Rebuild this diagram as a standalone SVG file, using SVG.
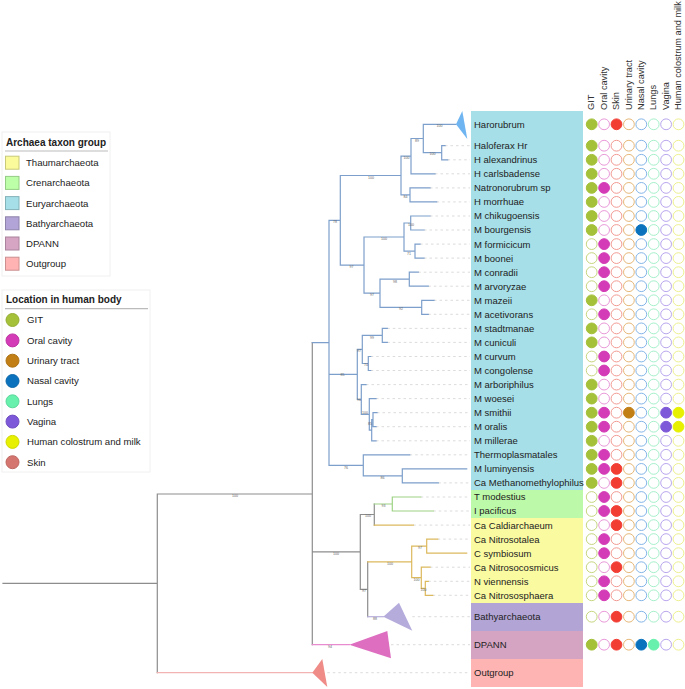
<svg xmlns="http://www.w3.org/2000/svg" width="685" height="689" viewBox="0 0 685 689">
<style>
text{font-family:"Liberation Sans",Arial,sans-serif;fill:#222}
.lab{font-size:9.5px}
.hd{font-size:9.2px;fill:#333}
.lt{font-size:9.6px}
.ttl{font-size:10px;font-weight:bold}
.bs{font-size:3.6px;fill:#666}
.br{fill:none;stroke-width:1.2;stroke-linecap:square}
.gray{stroke:#8d8d8d}
.blue{stroke:#7d9fcb}
.grn{stroke:#9ed384}
.yel{stroke:#dcb95c}
.lead{fill:none;stroke:#d2d2d2;stroke-width:0.8;stroke-dasharray:2.5 3}
circle.k{fill:#fff;stroke-width:1}
.g{stroke:#c5d67e}.g.f{fill:#a4c139;stroke:#a4c139}
.o{stroke:#e99ad9}.o.f{fill:#d43bb6;stroke:#d43bb6}
.s{stroke:#f29a92}.s.f{fill:#f23d33;stroke:#f23d33}
.u{stroke:#e6b878}.u.f{fill:#c17f16;stroke:#c17f16}
.n{stroke:#83b5e8}.n.f{fill:#0b73bd;stroke:#0b73bd}
.l{stroke:#a6f0cb}.l.f{fill:#68f0ad;stroke:#68f0ad}
.v{stroke:#b9a6ee}.v.f{fill:#7d58d8;stroke:#7d58d8}
.m{stroke:#edf08e}.m.f{fill:#e6f000;stroke:#e6f000}
</style>

<!-- legends -->
<g id="legend-taxon">
<rect x="2" y="132" width="108" height="144" fill="#fff" stroke="#f0f0f0"/>
<text class="ttl" x="6" y="146.2">Archaea taxon group</text>
<line x1="5" y1="151" x2="108" y2="151" stroke="#bbb" stroke-width="1.2"/>
<rect x="5.5" y="156.2" width="13.5" height="13" fill="#fbfb9c" stroke="#c9c97a"/><text class="lt" x="26" y="166.1">Thaumarchaeota</text>
<rect x="5.5" y="176.4" width="13.5" height="13" fill="#bcffa8" stroke="#95cc85"/><text class="lt" x="26" y="186.3">Crenarchaeota</text>
<rect x="5.5" y="196.6" width="13.5" height="13" fill="#a6dfe8" stroke="#84b2b9"/><text class="lt" x="26" y="206.5">Euryarchaeota</text>
<rect x="5.5" y="216.8" width="13.5" height="13" fill="#b2a4d6" stroke="#8e83ab"/><text class="lt" x="26" y="226.7">Bathyarchaeota</text>
<rect x="5.5" y="237" width="13.5" height="13" fill="#d5a5c3" stroke="#aa849c"/><text class="lt" x="26" y="246.9">DPANN</text>
<rect x="5.5" y="257.2" width="13.5" height="13" fill="#ffb3b3" stroke="#cc8f8f"/><text class="lt" x="26" y="267.1">Outgroup</text>
</g>
<g id="legend-location">
<rect x="2" y="290" width="148" height="182" fill="#fff" stroke="#f0f0f0"/>
<text class="ttl" x="6" y="302.7">Location in human body</text>
<line x1="5" y1="308.7" x2="148" y2="308.7" stroke="#bbb" stroke-width="1.2"/>
<circle cx="12.5" cy="320" r="6.5" fill="#a4c139" stroke="#94ad33"/><text class="lt" x="27" y="323.4">GIT</text>
<circle cx="12.5" cy="340.4" r="6.5" fill="#d43bb6" stroke="#be35a3"/><text class="lt" x="27" y="343.8">Oral cavity</text>
<circle cx="12.5" cy="360.7" r="6.5" fill="#c17f16" stroke="#ad7214"/><text class="lt" x="27" y="364.1">Urinary tract</text>
<circle cx="12.5" cy="381" r="6.5" fill="#0b73bd" stroke="#0a67aa"/><text class="lt" x="27" y="384.4">Nasal cavity</text>
<circle cx="12.5" cy="401.3" r="6.5" fill="#68f0ad" stroke="#5dd89b"/><text class="lt" x="27" y="404.7">Lungs</text>
<circle cx="12.5" cy="421.6" r="6.5" fill="#7d58d8" stroke="#704fc2"/><text class="lt" x="27" y="425">Vagina</text>
<circle cx="12.5" cy="441.9" r="6.5" fill="#e6f000" stroke="#cfd800"/><text class="lt" x="27" y="445.3">Human colostrum and milk</text>
<circle cx="12.5" cy="462.2" r="6.5" fill="#d4756f" stroke="#bf6964"/><text class="lt" x="27" y="465.6">Skin</text>
</g>

<!-- label bands -->
<g id="bands">
<rect x="471" y="111" width="112" height="379" fill="#a6dfe8"/>
<rect x="471" y="490" width="112" height="28" fill="#bcf9a8"/>
<rect x="471" y="518" width="112" height="85" fill="#fafaa0"/>
<rect x="471" y="603" width="112" height="28" fill="#b2a5d6"/>
<rect x="471" y="631" width="112" height="28" fill="#d5a4c2"/>
<rect x="471" y="659" width="112" height="28" fill="#ffb4b4"/>
</g>

<!-- column headers -->
<g id="headers">
<text class="hd" transform="translate(594.3,110) rotate(-90)">GIT</text>
<text class="hd" transform="translate(606.7,110) rotate(-90)">Oral cavity</text>
<text class="hd" transform="translate(619.1,110) rotate(-90)">Skin</text>
<text class="hd" transform="translate(631.5,110) rotate(-90)">Urinary tract</text>
<text class="hd" transform="translate(643.9,110) rotate(-90)">Nasal cavity</text>
<text class="hd" transform="translate(656.3,110) rotate(-90)">Lungs</text>
<text class="hd" transform="translate(668.7,110) rotate(-90)">Vagina</text>
<text class="hd" transform="translate(681.1,110) rotate(-90)">Human colostrum and milk</text>
</g>

<!-- connectors -->
<g id="connectors">
<g id="leaders">
<path class="lead" d="M445,145.7H470M447.7,159.8H470M435,173.8H470M430,187.9H470M436.7,201.9H470M430,216H470M424,230H470M420,244.1H470M424,258.1H470M418.3,272.2H470M428.3,286.2H470M434,300.3H470M428.3,314.3H470M387.3,328.4H470M387.3,342.4H470M370.7,356.5H470M370.7,370.5H470M366,384.6H470M376,398.6H470M377,412.7H470M376,426.7H470M376,440.8H470M409.7,454.8H470M438.3,482.9H470M420.7,497H470M433.3,511H470M413.3,525.1H470M437.7,539.1H470M430,567.2H470M428.3,581.3H470M432.7,595.3H470M412.3,616.7H470M391,644.7H470M327.3,672.7H470"/>
</g>
<path class="br gray" d="M3,583.3H157.3M157.3,494V672.7M157.3,494H312.3M312.3,342.7V644.7M312.3,551.9H360.3M360.3,514.5V589.3M360.3,514.5H374.3M374.3,504V525.1M360.3,589.3H367.7M367.7,561.9V616.7"/>
<path class="br blue" d="M312.3,342.7H329M329,220.3V465.3M329,220.3H340.3M329,374.4H357.3M329,465.3H363.3M340.3,175.5V265.1M340.3,175.5H401M340.3,265.1H364M401,156.2V194.9M401,156.2H411M401,194.9H410M411,138.5V173.8M411,138.5H423.3M411,173.8H435M423.3,124.3V152.7M423.3,124.3H456M423.3,152.7H441.7M441.7,145.7V159.8M441.7,145.7H445M441.7,159.8H447.7M410,187.9V201.9M410,187.9H430M410,201.9H436.7M364,237V293.2M364,237H404M364,293.2H380M404,223V251.1M404,223H410.7M404,251.1H415M410.7,216V230M410.7,216H430M410.7,230H424M415,244.1V258.1M415,244.1H420M415,258.1H424M380,279.2V307.3M380,279.2H409.3M380,307.3H421.7M409.3,272.2V286.2M409.3,272.2H418.3M409.3,286.2H428.3M421.7,300.3V314.3M421.7,300.3H434M421.7,314.3H428.3M357.3,349.4V399.5M357.3,349.4H362.3M357.3,399.5H361.3M362.3,335.4V363.5M362.3,335.4H382.3M362.3,363.5H368.3M382.3,328.4V342.4M382.3,328.4H387.3M382.3,342.4H387.3M368.3,356.5V370.5M368.3,356.5H370.7M368.3,370.5H370.7M361.3,384.6V414.4M361.3,384.6H366M361.3,414.4H369.3M369.3,398.6V430.2M369.3,398.6H376M369.3,430.2H371.7M371.7,419.7V440.8M371.7,419.7H373M371.7,440.8H376M373,412.7V426.7M373,412.7H377M373,426.7H376M363.3,454.8V475.9M363.3,454.8H409.7M363.3,475.9H402.3M402.3,468.9V482.9M402.3,468.9H466.7M402.3,482.9H438.3"/>
<path class="br grn" d="M374.3,504H392.3M392.3,497V511M392.3,497H420.7M392.3,511H433.3"/>
<path class="br yel" d="M374.3,525.1H413.3M367.7,561.9H411.7M411.7,546.1V577.7M411.7,546.1H426.7M411.7,577.7H421.3M426.7,539.1V553.2M426.7,539.1H437.7M426.7,553.2H466.7M421.3,567.2V588.3M421.3,567.2H430M421.3,588.3H425.3M425.3,581.3V595.3M425.3,581.3H428.3M425.3,595.3H432.7"/>
<path class="br" stroke="#b7aedc" d="M367.7,616.7H383.3"/>
<path class="br" stroke="#e88ccf" d="M312.3,644.7H349.3"/>
<path class="br" stroke="#f4b3b3" d="M157.3,672.7H312.3"/>
<g id="support">
<text class="bs" x="232" y="497">100</text>
<text class="bs" x="328" y="648">94</text>
<text class="bs" x="333" y="554.5">100</text>
<text class="bs" x="362" y="592">97</text>
<text class="bs" x="373" y="619.5">88</text>
<text class="bs" x="365" y="517">100</text>
<text class="bs" x="381.5" y="506.5">93</text>
<text class="bs" x="387" y="565">100</text>
<text class="bs" x="418" y="549">97</text>
<text class="bs" x="413.5" y="580.5">100</text>
<text class="bs" x="420.5" y="591">100</text>
<text class="bs" x="333" y="223">78</text>
<text class="bs" x="368" y="178.5">100</text>
<text class="bs" x="349.5" y="268">97</text>
<text class="bs" x="403.5" y="159">100</text>
<text class="bs" x="403.5" y="197.5">84</text>
<text class="bs" x="415" y="141.5">89</text>
<text class="bs" x="436.5" y="127">100</text>
<text class="bs" x="429.5" y="155">100</text>
<text class="bs" x="381" y="240">100</text>
<text class="bs" x="408" y="226">100</text>
<text class="bs" x="407" y="255">71</text>
<text class="bs" x="393" y="282.5">98</text>
<text class="bs" x="370" y="296">97</text>
<text class="bs" x="399" y="310">92</text>
<text class="bs" x="340.5" y="376">85</text>
<text class="bs" x="357" y="352">97</text>
<text class="bs" x="370" y="338.5">99</text>
<text class="bs" x="364" y="366">74</text>
<text class="bs" x="357" y="400.5">96</text>
<text class="bs" x="362" y="413.5">100</text>
<text class="bs" x="368" y="425">85</text>
<text class="bs" x="344" y="468.5">76</text>
<text class="bs" x="380.5" y="479">86</text>
</g>
</g>

<!-- collapsed clades -->
<polygon id="tri-harorubrum" points="456,124.3 462.3,111 467.3,139" fill="#6fb5f2"/>
<polygon id="tri-bathy" points="383.3,616.7 399,602.7 412.3,630.7" fill="#b5acdc"/>
<polygon id="tri-dpann" points="349.3,644.7 387.3,631 391,658.3" fill="#de6fc0"/>
<polygon id="tri-outgroup" points="312.3,672.7 322.3,659 327.3,687" fill="#ef8c87"/>

<!-- leaf nodes -->
<g id="n-harorubrum"><text class="lab" x="474" y="127.7">Harorubrum</text><g transform="translate(0,124.3)"><circle class="k g f" cx="591.7" cy="0" r="5.4"/><circle class="k o" cx="604.1" cy="0" r="5.4"/><circle class="k s f" cx="616.5" cy="0" r="5.4"/><circle class="k u" cx="628.9" cy="0" r="5.4"/><circle class="k n" cx="641.3" cy="0" r="5.4"/><circle class="k l" cx="653.7" cy="0" r="5.4"/><circle class="k v" cx="666.1" cy="0" r="5.4"/><circle class="k m" cx="678.5" cy="0" r="5.4"/></g></g>
<g id="n-haloferax"><text class="lab" x="474" y="149.1">Haloferax Hr</text><g transform="translate(0,145.7)"><circle class="k g f" cx="591.7" cy="0" r="5.4"/><circle class="k o" cx="604.1" cy="0" r="5.4"/><circle class="k s" cx="616.5" cy="0" r="5.4"/><circle class="k u" cx="628.9" cy="0" r="5.4"/><circle class="k n" cx="641.3" cy="0" r="5.4"/><circle class="k l" cx="653.7" cy="0" r="5.4"/><circle class="k v" cx="666.1" cy="0" r="5.4"/><circle class="k m" cx="678.5" cy="0" r="5.4"/></g></g>
<g id="n-halexandrinus"><text class="lab" x="474" y="163.2">H alexandrinus</text><g transform="translate(0,159.8)"><circle class="k g f" cx="591.7" cy="0" r="5.4"/><circle class="k o" cx="604.1" cy="0" r="5.4"/><circle class="k s" cx="616.5" cy="0" r="5.4"/><circle class="k u" cx="628.9" cy="0" r="5.4"/><circle class="k n" cx="641.3" cy="0" r="5.4"/><circle class="k l" cx="653.7" cy="0" r="5.4"/><circle class="k v" cx="666.1" cy="0" r="5.4"/><circle class="k m" cx="678.5" cy="0" r="5.4"/></g></g>
<g id="n-hcarlsbadense"><text class="lab" x="474" y="177.2">H carlsbadense</text><g transform="translate(0,173.8)"><circle class="k g f" cx="591.7" cy="0" r="5.4"/><circle class="k o" cx="604.1" cy="0" r="5.4"/><circle class="k s" cx="616.5" cy="0" r="5.4"/><circle class="k u" cx="628.9" cy="0" r="5.4"/><circle class="k n" cx="641.3" cy="0" r="5.4"/><circle class="k l" cx="653.7" cy="0" r="5.4"/><circle class="k v" cx="666.1" cy="0" r="5.4"/><circle class="k m" cx="678.5" cy="0" r="5.4"/></g></g>
<g id="n-natronorubrum"><text class="lab" x="474" y="191.3">Natronorubrum sp</text><g transform="translate(0,187.9)"><circle class="k g f" cx="591.7" cy="0" r="5.4"/><circle class="k o f" cx="604.1" cy="0" r="5.4"/><circle class="k s" cx="616.5" cy="0" r="5.4"/><circle class="k u" cx="628.9" cy="0" r="5.4"/><circle class="k n" cx="641.3" cy="0" r="5.4"/><circle class="k l" cx="653.7" cy="0" r="5.4"/><circle class="k v" cx="666.1" cy="0" r="5.4"/><circle class="k m" cx="678.5" cy="0" r="5.4"/></g></g>
<g id="n-hmorrhuae"><text class="lab" x="474" y="205.3">H morrhuae</text><g transform="translate(0,201.9)"><circle class="k g f" cx="591.7" cy="0" r="5.4"/><circle class="k o" cx="604.1" cy="0" r="5.4"/><circle class="k s" cx="616.5" cy="0" r="5.4"/><circle class="k u" cx="628.9" cy="0" r="5.4"/><circle class="k n" cx="641.3" cy="0" r="5.4"/><circle class="k l" cx="653.7" cy="0" r="5.4"/><circle class="k v" cx="666.1" cy="0" r="5.4"/><circle class="k m" cx="678.5" cy="0" r="5.4"/></g></g>
<g id="n-mchikugoensis"><text class="lab" x="474" y="219.4">M chikugoensis</text><g transform="translate(0,216)"><circle class="k g f" cx="591.7" cy="0" r="5.4"/><circle class="k o" cx="604.1" cy="0" r="5.4"/><circle class="k s" cx="616.5" cy="0" r="5.4"/><circle class="k u" cx="628.9" cy="0" r="5.4"/><circle class="k n" cx="641.3" cy="0" r="5.4"/><circle class="k l" cx="653.7" cy="0" r="5.4"/><circle class="k v" cx="666.1" cy="0" r="5.4"/><circle class="k m" cx="678.5" cy="0" r="5.4"/></g></g>
<g id="n-mbourgensis"><text class="lab" x="474" y="233.4">M bourgensis</text><g transform="translate(0,230)"><circle class="k g f" cx="591.7" cy="0" r="5.4"/><circle class="k o" cx="604.1" cy="0" r="5.4"/><circle class="k s" cx="616.5" cy="0" r="5.4"/><circle class="k u" cx="628.9" cy="0" r="5.4"/><circle class="k n f" cx="641.3" cy="0" r="5.4"/><circle class="k l" cx="653.7" cy="0" r="5.4"/><circle class="k v" cx="666.1" cy="0" r="5.4"/><circle class="k m" cx="678.5" cy="0" r="5.4"/></g></g>
<g id="n-mformicicum"><text class="lab" x="474" y="247.5">M formicicum</text><g transform="translate(0,244.1)"><circle class="k g" cx="591.7" cy="0" r="5.4"/><circle class="k o f" cx="604.1" cy="0" r="5.4"/><circle class="k s" cx="616.5" cy="0" r="5.4"/><circle class="k u" cx="628.9" cy="0" r="5.4"/><circle class="k n" cx="641.3" cy="0" r="5.4"/><circle class="k l" cx="653.7" cy="0" r="5.4"/><circle class="k v" cx="666.1" cy="0" r="5.4"/><circle class="k m" cx="678.5" cy="0" r="5.4"/></g></g>
<g id="n-mboonei"><text class="lab" x="474" y="261.5">M boonei</text><g transform="translate(0,258.1)"><circle class="k g" cx="591.7" cy="0" r="5.4"/><circle class="k o f" cx="604.1" cy="0" r="5.4"/><circle class="k s" cx="616.5" cy="0" r="5.4"/><circle class="k u" cx="628.9" cy="0" r="5.4"/><circle class="k n" cx="641.3" cy="0" r="5.4"/><circle class="k l" cx="653.7" cy="0" r="5.4"/><circle class="k v" cx="666.1" cy="0" r="5.4"/><circle class="k m" cx="678.5" cy="0" r="5.4"/></g></g>
<g id="n-mconradii"><text class="lab" x="474" y="275.6">M conradii</text><g transform="translate(0,272.2)"><circle class="k g" cx="591.7" cy="0" r="5.4"/><circle class="k o f" cx="604.1" cy="0" r="5.4"/><circle class="k s" cx="616.5" cy="0" r="5.4"/><circle class="k u" cx="628.9" cy="0" r="5.4"/><circle class="k n" cx="641.3" cy="0" r="5.4"/><circle class="k l" cx="653.7" cy="0" r="5.4"/><circle class="k v" cx="666.1" cy="0" r="5.4"/><circle class="k m" cx="678.5" cy="0" r="5.4"/></g></g>
<g id="n-marvoryzae"><text class="lab" x="474" y="289.6">M arvoryzae</text><g transform="translate(0,286.2)"><circle class="k g" cx="591.7" cy="0" r="5.4"/><circle class="k o f" cx="604.1" cy="0" r="5.4"/><circle class="k s" cx="616.5" cy="0" r="5.4"/><circle class="k u" cx="628.9" cy="0" r="5.4"/><circle class="k n" cx="641.3" cy="0" r="5.4"/><circle class="k l" cx="653.7" cy="0" r="5.4"/><circle class="k v" cx="666.1" cy="0" r="5.4"/><circle class="k m" cx="678.5" cy="0" r="5.4"/></g></g>
<g id="n-mmazeii"><text class="lab" x="474" y="303.7">M mazeii</text><g transform="translate(0,300.3)"><circle class="k g f" cx="591.7" cy="0" r="5.4"/><circle class="k o" cx="604.1" cy="0" r="5.4"/><circle class="k s" cx="616.5" cy="0" r="5.4"/><circle class="k u" cx="628.9" cy="0" r="5.4"/><circle class="k n" cx="641.3" cy="0" r="5.4"/><circle class="k l" cx="653.7" cy="0" r="5.4"/><circle class="k v" cx="666.1" cy="0" r="5.4"/><circle class="k m" cx="678.5" cy="0" r="5.4"/></g></g>
<g id="n-macetivorans"><text class="lab" x="474" y="317.7">M acetivorans</text><g transform="translate(0,314.3)"><circle class="k g" cx="591.7" cy="0" r="5.4"/><circle class="k o f" cx="604.1" cy="0" r="5.4"/><circle class="k s" cx="616.5" cy="0" r="5.4"/><circle class="k u" cx="628.9" cy="0" r="5.4"/><circle class="k n" cx="641.3" cy="0" r="5.4"/><circle class="k l" cx="653.7" cy="0" r="5.4"/><circle class="k v" cx="666.1" cy="0" r="5.4"/><circle class="k m" cx="678.5" cy="0" r="5.4"/></g></g>
<g id="n-mstadtmanae"><text class="lab" x="474" y="331.8">M stadtmanae</text><g transform="translate(0,328.4)"><circle class="k g f" cx="591.7" cy="0" r="5.4"/><circle class="k o" cx="604.1" cy="0" r="5.4"/><circle class="k s" cx="616.5" cy="0" r="5.4"/><circle class="k u" cx="628.9" cy="0" r="5.4"/><circle class="k n" cx="641.3" cy="0" r="5.4"/><circle class="k l" cx="653.7" cy="0" r="5.4"/><circle class="k v" cx="666.1" cy="0" r="5.4"/><circle class="k m" cx="678.5" cy="0" r="5.4"/></g></g>
<g id="n-mcuniculi"><text class="lab" x="474" y="345.8">M cuniculi</text><g transform="translate(0,342.4)"><circle class="k g f" cx="591.7" cy="0" r="5.4"/><circle class="k o" cx="604.1" cy="0" r="5.4"/><circle class="k s" cx="616.5" cy="0" r="5.4"/><circle class="k u" cx="628.9" cy="0" r="5.4"/><circle class="k n" cx="641.3" cy="0" r="5.4"/><circle class="k l" cx="653.7" cy="0" r="5.4"/><circle class="k v" cx="666.1" cy="0" r="5.4"/><circle class="k m" cx="678.5" cy="0" r="5.4"/></g></g>
<g id="n-mcurvum"><text class="lab" x="474" y="359.9">M curvum</text><g transform="translate(0,356.5)"><circle class="k g" cx="591.7" cy="0" r="5.4"/><circle class="k o f" cx="604.1" cy="0" r="5.4"/><circle class="k s" cx="616.5" cy="0" r="5.4"/><circle class="k u" cx="628.9" cy="0" r="5.4"/><circle class="k n" cx="641.3" cy="0" r="5.4"/><circle class="k l" cx="653.7" cy="0" r="5.4"/><circle class="k v" cx="666.1" cy="0" r="5.4"/><circle class="k m" cx="678.5" cy="0" r="5.4"/></g></g>
<g id="n-mcongolense"><text class="lab" x="474" y="373.9">M congolense</text><g transform="translate(0,370.5)"><circle class="k g" cx="591.7" cy="0" r="5.4"/><circle class="k o f" cx="604.1" cy="0" r="5.4"/><circle class="k s" cx="616.5" cy="0" r="5.4"/><circle class="k u" cx="628.9" cy="0" r="5.4"/><circle class="k n" cx="641.3" cy="0" r="5.4"/><circle class="k l" cx="653.7" cy="0" r="5.4"/><circle class="k v" cx="666.1" cy="0" r="5.4"/><circle class="k m" cx="678.5" cy="0" r="5.4"/></g></g>
<g id="n-marboriphilus"><text class="lab" x="474" y="388">M arboriphilus</text><g transform="translate(0,384.6)"><circle class="k g f" cx="591.7" cy="0" r="5.4"/><circle class="k o" cx="604.1" cy="0" r="5.4"/><circle class="k s" cx="616.5" cy="0" r="5.4"/><circle class="k u" cx="628.9" cy="0" r="5.4"/><circle class="k n" cx="641.3" cy="0" r="5.4"/><circle class="k l" cx="653.7" cy="0" r="5.4"/><circle class="k v" cx="666.1" cy="0" r="5.4"/><circle class="k m" cx="678.5" cy="0" r="5.4"/></g></g>
<g id="n-mwoesei"><text class="lab" x="474" y="402">M woesei</text><g transform="translate(0,398.6)"><circle class="k g f" cx="591.7" cy="0" r="5.4"/><circle class="k o" cx="604.1" cy="0" r="5.4"/><circle class="k s" cx="616.5" cy="0" r="5.4"/><circle class="k u" cx="628.9" cy="0" r="5.4"/><circle class="k n" cx="641.3" cy="0" r="5.4"/><circle class="k l" cx="653.7" cy="0" r="5.4"/><circle class="k v" cx="666.1" cy="0" r="5.4"/><circle class="k m" cx="678.5" cy="0" r="5.4"/></g></g>
<g id="n-msmithii"><text class="lab" x="474" y="416.1">M smithii</text><g transform="translate(0,412.7)"><circle class="k g f" cx="591.7" cy="0" r="5.4"/><circle class="k o f" cx="604.1" cy="0" r="5.4"/><circle class="k s" cx="616.5" cy="0" r="5.4"/><circle class="k u f" cx="628.9" cy="0" r="5.4"/><circle class="k n" cx="641.3" cy="0" r="5.4"/><circle class="k l" cx="653.7" cy="0" r="5.4"/><circle class="k v f" cx="666.1" cy="0" r="5.4"/><circle class="k m f" cx="678.5" cy="0" r="5.4"/></g></g>
<g id="n-moralis"><text class="lab" x="474" y="430.1">M oralis</text><g transform="translate(0,426.7)"><circle class="k g f" cx="591.7" cy="0" r="5.4"/><circle class="k o f" cx="604.1" cy="0" r="5.4"/><circle class="k s" cx="616.5" cy="0" r="5.4"/><circle class="k u" cx="628.9" cy="0" r="5.4"/><circle class="k n" cx="641.3" cy="0" r="5.4"/><circle class="k l" cx="653.7" cy="0" r="5.4"/><circle class="k v f" cx="666.1" cy="0" r="5.4"/><circle class="k m f" cx="678.5" cy="0" r="5.4"/></g></g>
<g id="n-mmillerae"><text class="lab" x="474" y="444.2">M millerae</text><g transform="translate(0,440.8)"><circle class="k g f" cx="591.7" cy="0" r="5.4"/><circle class="k o" cx="604.1" cy="0" r="5.4"/><circle class="k s" cx="616.5" cy="0" r="5.4"/><circle class="k u" cx="628.9" cy="0" r="5.4"/><circle class="k n" cx="641.3" cy="0" r="5.4"/><circle class="k l" cx="653.7" cy="0" r="5.4"/><circle class="k v" cx="666.1" cy="0" r="5.4"/><circle class="k m" cx="678.5" cy="0" r="5.4"/></g></g>
<g id="n-thermoplasmatales"><text class="lab" x="474" y="458.2">Thermoplasmatales</text><g transform="translate(0,454.8)"><circle class="k g f" cx="591.7" cy="0" r="5.4"/><circle class="k o f" cx="604.1" cy="0" r="5.4"/><circle class="k s" cx="616.5" cy="0" r="5.4"/><circle class="k u" cx="628.9" cy="0" r="5.4"/><circle class="k n" cx="641.3" cy="0" r="5.4"/><circle class="k l" cx="653.7" cy="0" r="5.4"/><circle class="k v" cx="666.1" cy="0" r="5.4"/><circle class="k m" cx="678.5" cy="0" r="5.4"/></g></g>
<g id="n-mluminyensis"><text class="lab" x="474" y="472.3">M luminyensis</text><g transform="translate(0,468.9)"><circle class="k g f" cx="591.7" cy="0" r="5.4"/><circle class="k o f" cx="604.1" cy="0" r="5.4"/><circle class="k s f" cx="616.5" cy="0" r="5.4"/><circle class="k u" cx="628.9" cy="0" r="5.4"/><circle class="k n" cx="641.3" cy="0" r="5.4"/><circle class="k l" cx="653.7" cy="0" r="5.4"/><circle class="k v" cx="666.1" cy="0" r="5.4"/><circle class="k m" cx="678.5" cy="0" r="5.4"/></g></g>
<g id="n-camethanomethylophilus"><text class="lab" x="474" y="486.3">Ca Methanomethylophilus</text><g transform="translate(0,482.9)"><circle class="k g f" cx="591.7" cy="0" r="5.4"/><circle class="k o" cx="604.1" cy="0" r="5.4"/><circle class="k s f" cx="616.5" cy="0" r="5.4"/><circle class="k u" cx="628.9" cy="0" r="5.4"/><circle class="k n" cx="641.3" cy="0" r="5.4"/><circle class="k l" cx="653.7" cy="0" r="5.4"/><circle class="k v" cx="666.1" cy="0" r="5.4"/><circle class="k m" cx="678.5" cy="0" r="5.4"/></g></g>
<g id="n-tmodestius"><text class="lab" x="474" y="500.4">T modestius</text><g transform="translate(0,497)"><circle class="k g" cx="591.7" cy="0" r="5.4"/><circle class="k o f" cx="604.1" cy="0" r="5.4"/><circle class="k s" cx="616.5" cy="0" r="5.4"/><circle class="k u" cx="628.9" cy="0" r="5.4"/><circle class="k n" cx="641.3" cy="0" r="5.4"/><circle class="k l" cx="653.7" cy="0" r="5.4"/><circle class="k v" cx="666.1" cy="0" r="5.4"/><circle class="k m" cx="678.5" cy="0" r="5.4"/></g></g>
<g id="n-ipacificus"><text class="lab" x="474" y="514.4">I pacificus</text><g transform="translate(0,511)"><circle class="k g" cx="591.7" cy="0" r="5.4"/><circle class="k o f" cx="604.1" cy="0" r="5.4"/><circle class="k s f" cx="616.5" cy="0" r="5.4"/><circle class="k u" cx="628.9" cy="0" r="5.4"/><circle class="k n" cx="641.3" cy="0" r="5.4"/><circle class="k l" cx="653.7" cy="0" r="5.4"/><circle class="k v" cx="666.1" cy="0" r="5.4"/><circle class="k m" cx="678.5" cy="0" r="5.4"/></g></g>
<g id="n-cacaldiarchaeum"><text class="lab" x="474" y="528.5">Ca Caldiarchaeum</text><g transform="translate(0,525.1)"><circle class="k g" cx="591.7" cy="0" r="5.4"/><circle class="k o" cx="604.1" cy="0" r="5.4"/><circle class="k s f" cx="616.5" cy="0" r="5.4"/><circle class="k u" cx="628.9" cy="0" r="5.4"/><circle class="k n" cx="641.3" cy="0" r="5.4"/><circle class="k l" cx="653.7" cy="0" r="5.4"/><circle class="k v" cx="666.1" cy="0" r="5.4"/><circle class="k m" cx="678.5" cy="0" r="5.4"/></g></g>
<g id="n-canitrosotalea"><text class="lab" x="474" y="542.5">Ca Nitrosotalea</text><g transform="translate(0,539.1)"><circle class="k g" cx="591.7" cy="0" r="5.4"/><circle class="k o f" cx="604.1" cy="0" r="5.4"/><circle class="k s" cx="616.5" cy="0" r="5.4"/><circle class="k u" cx="628.9" cy="0" r="5.4"/><circle class="k n" cx="641.3" cy="0" r="5.4"/><circle class="k l" cx="653.7" cy="0" r="5.4"/><circle class="k v" cx="666.1" cy="0" r="5.4"/><circle class="k m" cx="678.5" cy="0" r="5.4"/></g></g>
<g id="n-csymbiosum"><text class="lab" x="474" y="556.6">C symbiosum</text><g transform="translate(0,553.2)"><circle class="k g" cx="591.7" cy="0" r="5.4"/><circle class="k o f" cx="604.1" cy="0" r="5.4"/><circle class="k s" cx="616.5" cy="0" r="5.4"/><circle class="k u" cx="628.9" cy="0" r="5.4"/><circle class="k n" cx="641.3" cy="0" r="5.4"/><circle class="k l" cx="653.7" cy="0" r="5.4"/><circle class="k v" cx="666.1" cy="0" r="5.4"/><circle class="k m" cx="678.5" cy="0" r="5.4"/></g></g>
<g id="n-canitrosocosmicus"><text class="lab" x="474" y="570.6">Ca Nitrosocosmicus</text><g transform="translate(0,567.2)"><circle class="k g" cx="591.7" cy="0" r="5.4"/><circle class="k o" cx="604.1" cy="0" r="5.4"/><circle class="k s f" cx="616.5" cy="0" r="5.4"/><circle class="k u" cx="628.9" cy="0" r="5.4"/><circle class="k n" cx="641.3" cy="0" r="5.4"/><circle class="k l" cx="653.7" cy="0" r="5.4"/><circle class="k v" cx="666.1" cy="0" r="5.4"/><circle class="k m" cx="678.5" cy="0" r="5.4"/></g></g>
<g id="n-nviennensis"><text class="lab" x="474" y="584.7">N viennensis</text><g transform="translate(0,581.3)"><circle class="k g" cx="591.7" cy="0" r="5.4"/><circle class="k o f" cx="604.1" cy="0" r="5.4"/><circle class="k s" cx="616.5" cy="0" r="5.4"/><circle class="k u" cx="628.9" cy="0" r="5.4"/><circle class="k n" cx="641.3" cy="0" r="5.4"/><circle class="k l" cx="653.7" cy="0" r="5.4"/><circle class="k v" cx="666.1" cy="0" r="5.4"/><circle class="k m" cx="678.5" cy="0" r="5.4"/></g></g>
<g id="n-canitrososphaera"><text class="lab" x="474" y="598.7">Ca Nitrososphaera</text><g transform="translate(0,595.3)"><circle class="k g" cx="591.7" cy="0" r="5.4"/><circle class="k o f" cx="604.1" cy="0" r="5.4"/><circle class="k s" cx="616.5" cy="0" r="5.4"/><circle class="k u" cx="628.9" cy="0" r="5.4"/><circle class="k n" cx="641.3" cy="0" r="5.4"/><circle class="k l" cx="653.7" cy="0" r="5.4"/><circle class="k v" cx="666.1" cy="0" r="5.4"/><circle class="k m" cx="678.5" cy="0" r="5.4"/></g></g>
<g id="n-bathyarchaeota"><text class="lab" x="474" y="620.1">Bathyarchaeota</text><g transform="translate(0,616.7)"><circle class="k g" cx="591.7" cy="0" r="5.4"/><circle class="k o" cx="604.1" cy="0" r="5.4"/><circle class="k s f" cx="616.5" cy="0" r="5.4"/><circle class="k u" cx="628.9" cy="0" r="5.4"/><circle class="k n" cx="641.3" cy="0" r="5.4"/><circle class="k l" cx="653.7" cy="0" r="5.4"/><circle class="k v" cx="666.1" cy="0" r="5.4"/><circle class="k m" cx="678.5" cy="0" r="5.4"/></g></g>
<g id="n-dpann"><text class="lab" x="474" y="648.1">DPANN</text><g transform="translate(0,644.7)"><circle class="k g f" cx="591.7" cy="0" r="5.4"/><circle class="k o" cx="604.1" cy="0" r="5.4"/><circle class="k s f" cx="616.5" cy="0" r="5.4"/><circle class="k u" cx="628.9" cy="0" r="5.4"/><circle class="k n f" cx="641.3" cy="0" r="5.4"/><circle class="k l f" cx="653.7" cy="0" r="5.4"/><circle class="k v" cx="666.1" cy="0" r="5.4"/><circle class="k m" cx="678.5" cy="0" r="5.4"/></g></g>
<g id="n-outgroup"><text class="lab" x="474" y="676.1">Outgroup</text></g>
</svg>
